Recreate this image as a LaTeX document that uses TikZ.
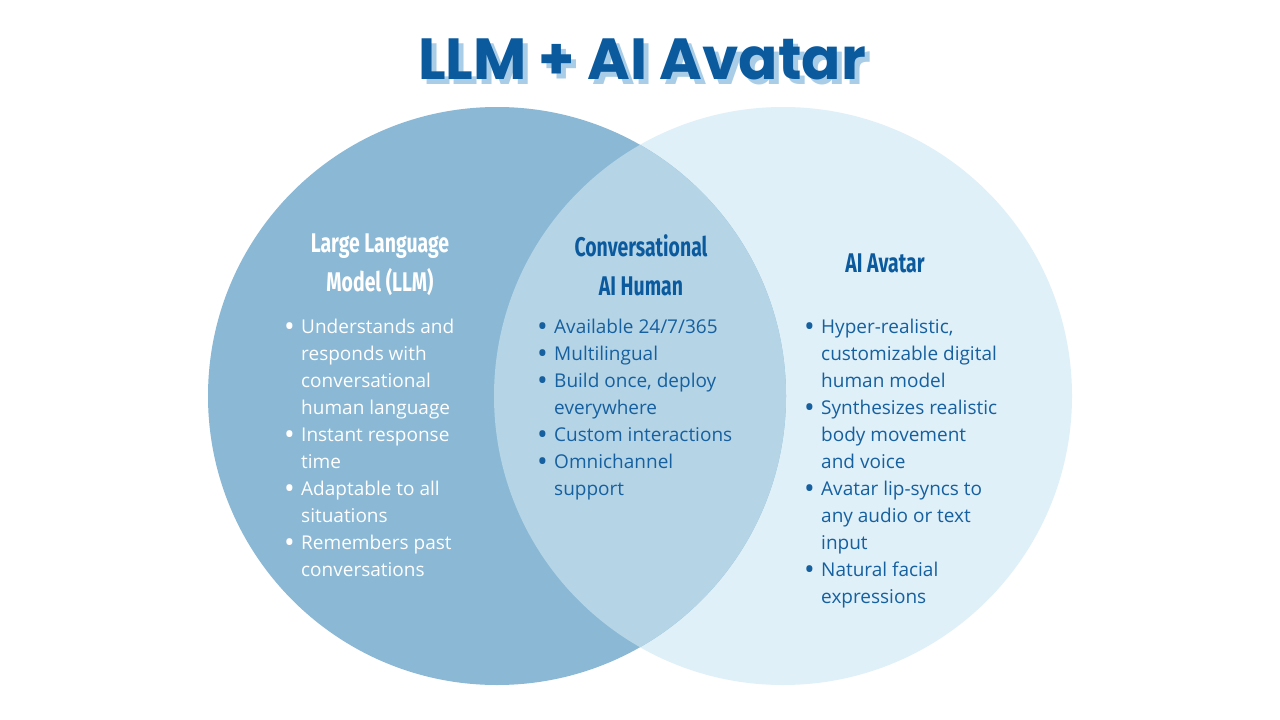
\documentclass[tikz,border=0pt]{standalone}
\usepackage{fontspec}
\usepackage{graphicx}
\setmainfont{Open Sans}
\newfontfamily\cond[FakeStretch=0.72]{Fira Sans}
\newfontfamily\titlefont{Poppins}
\definecolor{dblue}{HTML}{0B5A9E}
\definecolor{tblue}{HTML}{16609F}
\definecolor{lc}{HTML}{8AB8D5}
\definecolor{rc}{HTML}{DFF0F8}
\definecolor{mc}{HTML}{B5D5E7}
\definecolor{shadow}{HTML}{A9CDE6}
\newcommand{\bi}{\makebox[17pt][l]{\raisebox{-2.5pt}{\scalebox{1.5}{\textbullet}}}}
\newcommand{\ind}{\hspace*{17pt}}
\begin{document}
\begin{tikzpicture}[x=1pt,y=-1pt,
  lst/.style={anchor=north west,align=left,inner sep=0pt,font=\fontsize{19}{27}\selectfont},
  head/.style={align=center,inner sep=0pt,font=\cond\bfseries\fontsize{27}{39}\selectfont}]
\useasboundingbox (0,0) rectangle (1280,720);
\fill[white] (0,0) rectangle (1280,720);
\fill[rc] (783,396) circle (289);
\fill[lc] (497,396) circle (289);
\begin{scope}
\clip (497,396) circle (289);
\fill[mc] (783,396) circle (289);
\end{scope}
\node[text=shadow,font=\titlefont\bfseries\fontsize{58}{64}\selectfont] (ts) at (647,64) {LLM + AI Avatar};
\node[text=dblue,font=\titlefont\bfseries\fontsize{58}{64}\selectfont] (t) at (642,59) {LLM + AI Avatar};
\node[head,text=white] (h1) at (380,265) {Large Language\\Model (LLM)};
\node[head,text=dblue] (h2) at (641,265) {Conversational\\AI Human};
\node[head,text=dblue] (h3) at (885,263) {AI Avatar};
\node[lst,text=white] (l1) at (284,319) {\bi Understands and\\\ind responds with\\\ind conversational\\\ind human language\\\bi Instant response\\\ind time\\\bi Adaptable to all\\\ind situations\\\bi Remembers past\\\ind conversations};
\node[lst,text=tblue] (l2) at (537,319) {\bi Available 24/7/365\\\bi Multilingual\\\bi Build once, deploy\\\ind everywhere\\\bi Custom interactions\\\bi Omnichannel\\\ind support};
\node[lst,text=tblue] (l3) at (804,319) {\bi Hyper-realistic,\\\ind customizable digital\\\ind human model\\\bi Synthesizes realistic\\\ind body movement\\\ind and voice\\\bi Avatar lip-syncs to\\\ind any audio or text\\\ind input\\\bi Natural facial\\\ind expressions};
\end{tikzpicture}
\end{document}
